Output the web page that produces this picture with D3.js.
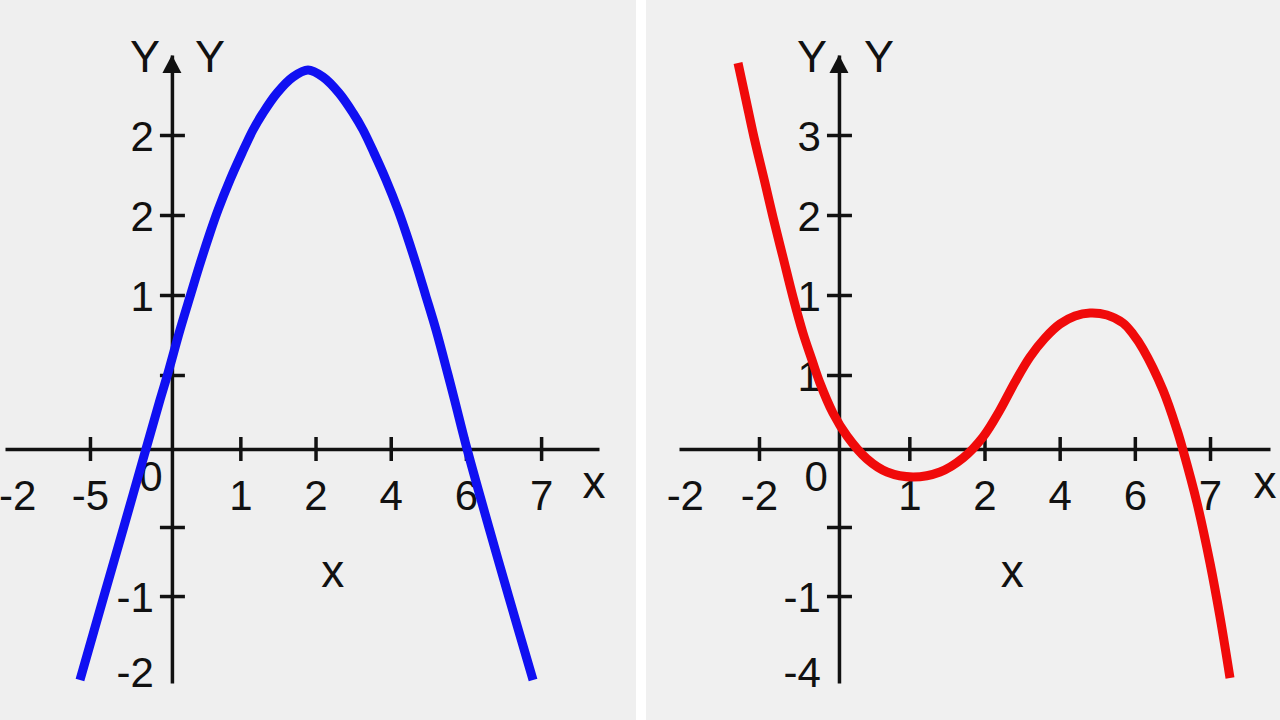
<!DOCTYPE html>
<html lang="en">
<head>
    <meta charset="UTF-8">
    <title>Two curves</title>
    <script src="https://cdn.jsdelivr.net/npm/d3@7"></script>
    <style>
        html, body { margin: 0; padding: 0; background: #ffffff; }
        svg { display: block; }
        text { font-family: "Liberation Sans", Arial, sans-serif; fill: #111; }
    </style>
</head>
<body>
<svg id="chart" width="1280" height="720"></svg>

<script>
    // grid units: one x unit = one tick step, y = 0 on the x axis
    // left panel (blue)
    let blueX = [-0.133, 0.186, 0.446, 0.745, 0.931, 1.038, 1.197, 1.337, 1.450, 1.596, 1.703, 1.862, 2.022,
                 2.168, 2.301, 2.488, 2.700, 2.900, 3.100, 3.312, 3.499, 3.632, 3.778, 3.938, 4.097, 4.204,
                 4.350, 4.463, 4.603, 4.756, 4.849, 5.015, 5.308, 5.567, 5.893]
    let blueY = [-2.8875, -1.8375, -0.9875, 0, 0.6125, 0.95, 1.4875, 1.925, 2.275, 2.7, 2.9875, 3.3625, 3.7,
                 3.9875, 4.2, 4.45, 4.65, 4.7375, 4.65, 4.45, 4.2, 3.9875, 3.7, 3.3625, 2.9875, 2.7,
                 2.275, 1.925, 1.4875, 0.95, 0.6125, 0, -0.9875, -1.8375, -2.8875]

    // right panel (red)
    let redX = [-0.279, -0.173, -0.067, 0.080, 0.186, 0.319, 0.452, 0.585, 0.705, 0.811, 0.984, 1.171,
                1.437, 1.703, 2.049, 2.408, 2.714, 2.980, 3.206, 3.406, 3.605, 3.805, 4.004, 4.204,
                4.403, 4.629, 4.842, 4.975, 5.108, 5.374, 5.561, 5.640, 5.827, 6.000, 6.133, 6.266]
    let redY = [4.825, 4.3625, 3.9, 3.325, 2.9, 2.4, 1.9, 1.45, 1.1125, 0.825, 0.45, 0.1625,
                -0.125, -0.2875, -0.35, -0.2875, -0.1125, 0.15, 0.4875, 0.8375, 1.15, 1.3875, 1.5625, 1.6625,
                1.7, 1.675, 1.575, 1.4375, 1.25, 0.7375, 0.2375, -0.0125, -0.675, -1.425, -2.1, -2.8625]

    // ticks (as printed in the picture)
    let xTickPos = [0, 2, 3, 4, 5, 6]
    let leftXLabels = ["-5", "1", "2", "4", "6", "7"]
    let rightXLabels = ["-2", "1", "2", "4", "6", "7"]
    let yTickPos = [3.925, 2.925, 1.925, 0.925, -0.975, -1.838]
    let leftYLabels = ["2", "2", "1", "", "", "-1"]
    let rightYLabels = ["3", "2", "1", "1", "", "-1"]
    let leftYEnd = "-2"
    let rightYEnd = "-4"

    const svg = d3.select("#chart")

    // backgrounds
    svg.append("rect").attr("x", 0).attr("y", 0).attr("width", 636).attr("height", 720).attr("fill", "#efefef")
    svg.append("rect").attr("x", 646).attr("y", 0).attr("width", 634).attr("height", 720).attr("fill", "#f0f0f0")

    const yScale = d3.scaleLinear().domain([-2.925, 4.925]).range([683, 55])

    function drawPanel(cfg) {
        let xScale = d3.scaleLinear().domain(cfg.xDomain).range(cfg.xRange)
        let g = svg.append("g")
        let axisX = xScale(cfg.yAxisAt)
        let axisY = yScale(0)

        // x axis
        let xa = g.append("g")
            .attr("transform", "translate(0," + axisY + ")")
            .call(d3.axisBottom(xScale)
                .tickValues(xTickPos)
                .tickFormat((d, i) => cfg.xLabels[i])
                .tickSizeInner(0).tickSizeOuter(0))
        xa.attr("font-family", null).attr("font-size", 42)
        xa.select(".domain").attr("stroke", "#111").attr("stroke-width", 3.5)
        xa.selectAll(".tick line").attr("y1", -12).attr("y2", 12)
            .attr("stroke", "#111").attr("stroke-width", 3.5)
        xa.selectAll(".tick text").attr("y", 61).attr("dy", 0).attr("fill", "#111")

        // y axis
        let ya = g.append("g")
            .attr("transform", "translate(" + axisX + ",0)")
            .call(d3.axisLeft(yScale)
                .tickValues(yTickPos)
                .tickFormat((d, i) => cfg.yLabels[i])
                .tickSizeInner(0).tickSizeOuter(0))
        ya.attr("font-family", null).attr("font-size", 42)
        ya.select(".domain").attr("stroke", "#111").attr("stroke-width", 3.5)
        ya.selectAll(".tick line").attr("x1", -12).attr("x2", 13)
            .attr("stroke", "#111").attr("stroke-width", 3.5)
        ya.selectAll(".tick text").attr("x", -18).attr("dy", "0.36em").attr("fill", "#111")

        // arrow head
        let tip = yScale.range()[1]
        g.append("path")
            .attr("d", "M" + axisX + "," + tip + "L" + (axisX - 9.5) + "," + (tip + 18) +
                "L" + (axisX + 9.5) + "," + (tip + 18) + "Z")
            .attr("fill", "#111")

        // extra labels
        g.append("text").attr("x", xScale(cfg.xExtraAt)).attr("y", axisY + 61)
            .attr("text-anchor", "middle").attr("font-size", 42).text(cfg.xExtra)
        g.append("text").attr("x", xScale(cfg.zeroAt)).attr("y", axisY + 42)
            .attr("text-anchor", "middle").attr("font-size", 42).text("0")
        g.append("text").attr("x", axisX - 18).attr("y", yScale(yScale.domain()[0]) + 4)
            .attr("text-anchor", "end").attr("font-size", 42).text(cfg.yEnd)
        g.append("text").attr("x", cfg.xRange[1] - 5).attr("y", axisY + 49)
            .attr("text-anchor", "middle").attr("font-size", 46).text("x")
        g.append("text").attr("x", xScale(cfg.xNameAt)).attr("y", axisY + 138)
            .attr("text-anchor", "middle").attr("font-size", 46).text("x")
        g.append("text").attr("x", axisX - 27).attr("y", tip + 17)
            .attr("text-anchor", "middle").attr("font-size", 45).text("Y")
        g.append("text").attr("x", axisX + cfg.yRightOff).attr("y", tip + 17)
            .attr("text-anchor", "middle").attr("font-size", 45).text("Y")

        // curve
        let pts = d3.zip(cfg.xs, cfg.ys)
        let line = d3.line()
            .x(d => xScale(d[0]))
            .y(d => yScale(d[1]))
            .curve(d3.curveCatmullRom.alpha(0.5))
        g.append("path")
            .datum(pts)
            .attr("d", line)
            .attr("fill", "none")
            .attr("stroke", cfg.color)
            .attr("stroke-width", 9)
            .attr("stroke-linejoin", "round")
    }

    drawPanel({
        xDomain: [-1.13, 6.77], xRange: [5, 599], yAxisAt: 1.09,
        xLabels: leftXLabels, yLabels: leftYLabels, yEnd: leftYEnd,
        xExtra: "-2", xExtraAt: -0.96, zeroAt: 0.81, xNameAt: 3.23, yRightOff: 38,
        xs: blueX, ys: blueY, color: "#1010f2"
    })

    drawPanel({
        xDomain: [-1.064, 6.798], xRange: [679, 1270], yAxisAt: 1.064,
        xLabels: rightXLabels, yLabels: rightYLabels, yEnd: rightYEnd,
        xExtra: "-2", xExtraAt: -0.98, zeroAt: 0.76, xNameAt: 3.37, yRightOff: 40,
        xs: redX, ys: redY, color: "#f00a0a"
    })
</script>
</body>
</html>
